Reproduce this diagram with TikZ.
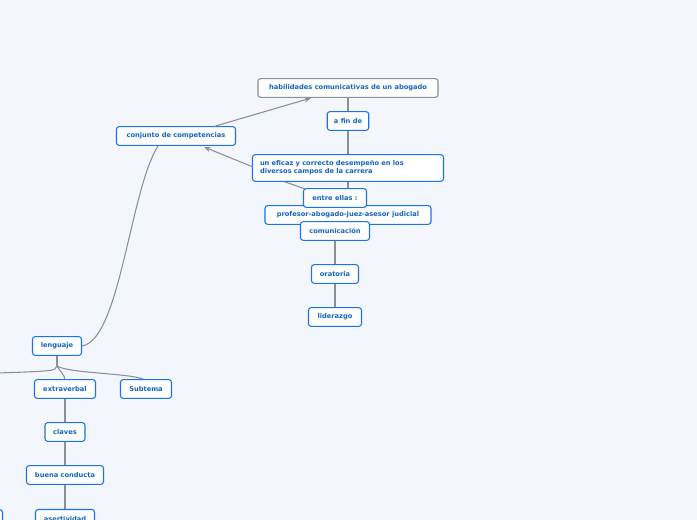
\documentclass[tikz,border=0pt]{standalone}
\usepackage{fontspec}
\setmainfont{DejaVu Sans}
\usetikzlibrary{arrows.meta}
\definecolor{bg}{HTML}{F3F6FD}
\definecolor{bl}{HTML}{1A73E8}
\definecolor{tx}{HTML}{1565C0}
\definecolor{ln}{HTML}{8A8F99}
\tikzset{
 box/.style={draw=bl,fill=white,rounded corners=2pt,line width=0.8pt,font=\fontsize{5}{6}\selectfont\bfseries,text=tx,minimum height=14pt,inner xsep=5pt},
 gbox/.style={box,draw=ln},
 con/.style={draw=ln,line width=0.8pt},
 arr/.style={con,-{Stealth[length=5pt,width=4pt]}}
}
\begin{document}
\begin{tikzpicture}[x=0.75pt,y=-0.75pt]
\fill[bg] (0,0) rectangle (697,520);
\useasboundingbox (0,0) rectangle (697,520);
\coordinate (t) at (57,366);
\coordinate (L) at (-2,373);
\coordinate (c1) at (214,126.5);
\coordinate (h1) at (311,98);
\coordinate (e1) at (253,167);
\coordinate (c2) at (204,147);
\coordinate (c3) at (158,146);
\draw[con] (348,88) -- (348,215);
\draw[con] (335,231) -- (335,317);
\draw[con] (65,389) -- (65,518);
\draw[con] (308,190) -- (260,173);
\draw[con] (57,356) -- (t);
\draw[con] (t) .. controls (55,371) .. (L);
\draw[con] (t) .. controls (60,372) and (65,374) .. (65,381);
\draw[con] (t) .. controls (70,374) and (140,373) .. (146,381);
\node[gbox,minimum width=180*0.75pt] (hab) at (348,88) {habilidades comunicativas de un abogado};
\node[box] (afin) at (348,121) {a fin de};
\node[box,minimum width=191*0.75pt,minimum height=20pt,align=left,text width=176*0.75pt] (efi) at (348,168) {\hyphenpenalty=10000 un eficaz y correcto desempeño en los\\ diversos campos de la carrera};
\node[box,minimum width=119*0.75pt] (conj) at (176,136) {conjunto de competencias};
\node[box,minimum width=166*0.75pt] (prof) at (348,215) {profesor-abogado-juez-asesor judicial};
\node[box,minimum width=63*0.75pt] (entre) at (335,198) {entre ellas :};
\node[box,minimum width=69*0.75pt] (com) at (335,231) {comunicación};
\node[box,minimum width=47*0.75pt] (ora) at (335,274) {oratoria};
\node[box,minimum width=53*0.75pt] (lid) at (335,317) {liderazgo};
\node[box,minimum width=49*0.75pt] (len) at (57,346) {lenguaje};
\node[box,minimum width=61*0.75pt] (ext) at (65,389) {extraverbal};
\node[box,minimum width=51*0.75pt] (sub) at (146,389) {Subtema};
\node[box,minimum width=40*0.75pt] (cla) at (65,432) {claves};
\node[box,minimum width=77*0.75pt] (bue) at (65,475) {buena conducta};
\node[box,minimum width=59*0.75pt,anchor=north] (ase) at (65,509) {asertividad};
\node[box,minimum width=30*0.75pt,anchor=north east] (part) at (3,509) {};
\draw[arr] (c1) -- (h1);
\draw[arr] (e1) -- (c2);
\draw[con] (c3) .. controls (130,190) and (120,340) .. (len.east);
\end{tikzpicture}
\end{document}
